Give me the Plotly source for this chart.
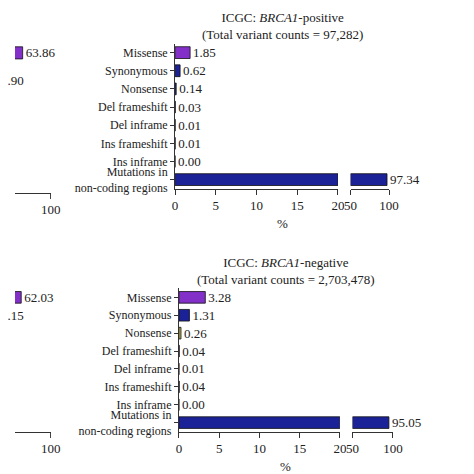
import plotly.graph_objects as go

W = H = 474

categories = ["Missense", "Synonymous", "Nonsense", "Del frameshift", "Del inframe",
              "Ins frameshift", "Ins inframe", "Mutations in<br>non-coding regions"]
pos_values = [1.85, 0.62, 0.14, 0.03, 0.01, 0.01, 0.00, 97.34]
neg_values = [3.28, 1.31, 0.26, 0.04, 0.01, 0.04, 0.00, 95.05]
pos_title = "ICGC: <i>BRCA1</i>-positive<br>(Total variant counts = 97,282)"
neg_title = "ICGC: <i>BRCA1</i>-negative<br>(Total variant counts = 2,703,478)"

# left-edge fragment of the neighbouring panels
frag_top = [63.86, 1.90]
frag_bot = [62.03, 2.15]

PURPLE = "#8330c9"
NAVY = "#1b2196"
OLIVE = "#b9b450"
FONT = "Liberation Serif"

pos_colors = [PURPLE] + [NAVY] * 7
neg_colors = [PURPLE, NAVY, OLIVE] + [NAVY] * 5

fig = go.Figure()
layout = dict(width=W, height=H, margin=dict(l=0, r=0, t=0, b=0),
              plot_bgcolor="white", paper_bgcolor="white", showlegend=False,
              font=dict(family=FONT, size=12, color="#222"), bargap=0.35,
              annotations=[])

def fx(px):
    return px / W

def fy(px):
    return 1 - px / H

n_ax = [0]

def new_axes():
    n_ax[0] += 1
    k = n_ax[0]
    return k, ("x" if k == 1 else f"x{k}"), ("y" if k == 1 else f"y{k}")

def axname(k, a):
    return a + "axis" + ("" if k == 1 else str(k))

TXT = dict(family=FONT, size=13, color="#222")

def panel(values, colors, title, x0, x20, x50, x100, ytop, ybot):
    ydom = [fy(ybot), fy(ytop)]
    yrange = [len(categories) - 0.5, -0.5]
    line = dict(showline=True, linecolor="#333", linewidth=1, ticks="outside",
                tickcolor="#333", ticklen=5, showgrid=False, zeroline=False,
                tickfont=dict(size=13))
    # segment 1: 0-20
    k, xa, ya = new_axes()
    seg1 = [min(v, 20) for v in values]
    txt = [f"{v:.2f}" if v <= 20 else "" for v in values]
    fig.add_trace(go.Bar(y=categories, x=seg1, orientation="h", xaxis=xa, yaxis=ya,
                         marker=dict(color=colors, line=dict(color="#111", width=0.8)),
                         text=txt, textposition="outside", cliponaxis=False,
                         constraintext="none", textfont=TXT))
    layout[axname(k, "x")] = dict(domain=[fx(x0), fx(x20)], range=[0, 20],
                                  tickvals=[0, 5, 10, 15, 20], anchor=ya, **line)
    layout[axname(k, "y")] = dict(domain=ydom, range=yrange, anchor=xa,
                                  type="category", **dict(line, ticklen=4, tickfont=dict(size=12)))
    # segment 2: 50-100
    k2, xa2, ya2 = new_axes()
    big = [v for v in values if v > 20]
    bigcat = [c for c, v in zip(categories, values) if v > 20]
    fig.add_trace(go.Bar(y=bigcat, x=[v - 50 for v in big], base=50, orientation="h",
                         xaxis=xa2, yaxis=ya2,
                         marker=dict(color=NAVY, line=dict(color="#111", width=0.8)),
                         text=[f"{v:.2f}" for v in big], textposition="outside",
                         cliponaxis=False, width=0.65, constraintext="none", textfont=TXT))
    layout[axname(k2, "x")] = dict(domain=[fx(x50), fx(x100)], range=[50, 100],
                                   tickvals=[50, 100], anchor=ya2, **line)
    layout[axname(k2, "y")] = dict(domain=ydom, range=yrange, anchor=xa2,
                                   type="category", categoryarray=categories,
                                   categoryorder="array", visible=False)
    layout["annotations"] += [
        dict(text=title, x=fx((x0 + x100) / 2), y=fy(ytop - 36), xref="paper", yref="paper",
             showarrow=False, yanchor="top", font=dict(size=13)),
        dict(text="%", x=fx((x0 + x100) / 2), y=fy(ybot + 35), xref="paper", yref="paper",
             showarrow=False, yanchor="middle", font=dict(size=13)),
    ]

def fragment(vals, right_px, ytop, ybot):
    k, xa, ya = new_axes()
    fig.add_trace(go.Bar(y=[0], x=[vals[0]], orientation="h", xaxis=xa, yaxis=ya,
                         marker=dict(color=PURPLE, line=dict(color="#111", width=0.8)),
                         text=[f"{vals[0]:.2f}"], textposition="outside",
                         cliponaxis=False, width=0.65, constraintext="none", textfont=TXT))
    layout[axname(k, "x")] = dict(domain=[0, fx(right_px)], range=[54, 100], tickvals=[100],
                                  anchor=ya, showline=True, linecolor="#333", ticks="outside",
                                  ticklen=5, showgrid=False, zeroline=False,
                                  tickfont=dict(size=13))
    layout[axname(k, "y")] = dict(domain=[fy(ybot), fy(ytop)], range=[7.5, -0.5],
                                  anchor=xa, visible=False)
    row_h = (ybot - ytop) / 8
    layout["annotations"].append(
        dict(text=f"{vals[1]:.2f}", x=fx(11), y=fy(ytop + 1.5 * row_h), xref="paper",
             yref="paper", xanchor="right", showarrow=False, font=TXT))

panel(pos_values, pos_colors, pos_title, 166, 335, 348, 388, 36, 183)
panel(neg_values, neg_colors, neg_title, 170, 337, 350, 392, 284, 429)
fragment(frag_top, 37, 36, 187)
fragment(frag_bot, 37, 284, 429)

fig.update_layout(**layout)
fig.write_html("out.html")
